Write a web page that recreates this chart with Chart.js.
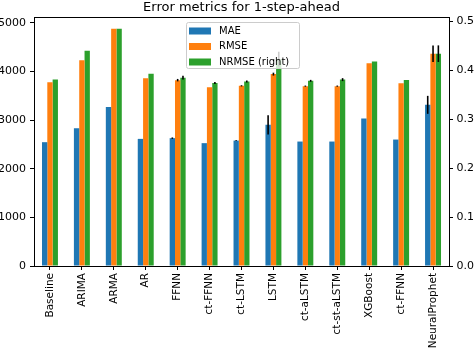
<!DOCTYPE html>
<html>
<head>
<meta charset="utf-8">
<script src="https://cdn.jsdelivr.net/npm/chart.js@4.4.0/dist/chart.umd.min.js"></script>
<style>
  html, body { margin: 0; padding: 0; background: #fff; }
</style>
</head>
<body>
<canvas id="err_chart" width="474" height="350"></canvas>
<script>
const models = ['Baseline', 'ARIMA', 'ARMA', 'AR', 'FFNN', 'ct-FFNN', 'ct-LSTM', 'LSTM', 'ct-aLSTM', 'ct-st-aLSTM', 'XGBoost', 'ct-FFNN', 'NeuralProphet'];

const maeValues = [2547, 2835, 3273, 2615, 2630, 2527, 2580, 2903, 2560, 2560, 3033, 2601, 3315];
const rmseValues = [3782, 4234, 4878, 3864, 3823, 3679, 3706, 3947, 3700, 3700, 4173, 3761, 4364];
const nrmseValues = [0.381, 0.440, 0.485, 0.393, 0.385, 0.374, 0.377, 0.423, 0.3785, 0.381, 0.418, 0.380, 0.434];

// std over runs, 0 where there is only one run
const maeErr = [0, 0, 0, 0, 15, 0, 8, 200, 0, 0, 0, 0, 185];
const rmseErr = [0, 0, 0, 0, 25, 0, 12, 30, 12, 12, 0, 0, 170];
const nrmseErr = [0, 0, 0, 0, 0.004, 0.002, 0.002, 0.015, 0.002, 0.003, 0, 0, 0.017];

const leftTicks = [0, 1000, 2000, 3000, 4000, 5000];
const rightTicks = [0, 0.1, 0.2, 0.3, 0.4, 0.5];
const leftMax = 5122;
const rightMax = 0.509;

Chart.defaults.font.family = 'DejaVu Sans';
Chart.defaults.font.size = 11;
Chart.defaults.color = '#000';

// vertical error lines on top of the bars
const errorBars = {
  id: 'errorBars',
  afterDatasetsDraw(chart) {
    const ctx = chart.ctx;
    ctx.save();
    ctx.strokeStyle = '#000';
    ctx.lineWidth = 1.6;
    chart.data.datasets.forEach((ds, i) => {
      const meta = chart.getDatasetMeta(i);
      const scale = chart.scales[ds.yAxisID];
      meta.data.forEach((bar, j) => {
        const e = ds.errors[j];
        if (!e) return;
        const v = ds.data[j];
        ctx.beginPath();
        ctx.moveTo(bar.x, scale.getPixelForValue(v - e));
        ctx.lineTo(bar.x, scale.getPixelForValue(v + e));
        ctx.stroke();
      });
    });
    ctx.restore();
  }
};

// frame + legend box inside the plot
const frameAndLegend = {
  id: 'frameAndLegend',
  afterDraw(chart) {
    const ctx = chart.ctx;
    const a = chart.chartArea;
    ctx.save();
    ctx.strokeStyle = '#000';
    ctx.lineWidth = 1;
    ctx.strokeRect(a.left + 0.5, a.top + 0.5, a.right - a.left, a.bottom - a.top);

    const lx = a.left + 152, ly = a.top + 5, lw = 113, lh = 46;
    ctx.beginPath();
    ctx.roundRect(lx + 0.5, ly + 0.5, lw, lh, 2);
    ctx.fillStyle = 'rgba(255,255,255,0.8)';
    ctx.fill();
    ctx.strokeStyle = '#cccccc';
    ctx.stroke();

    ctx.font = '10px "DejaVu Sans"';
    ctx.textBaseline = 'middle';
    chart.data.datasets.forEach((ds, i) => {
      const cy = ly + 9 + i * 15.5;
      ctx.fillStyle = ds.backgroundColor;
      ctx.fillRect(lx + 3, cy - 3.5, 22, 7);
      ctx.fillStyle = '#000';
      ctx.fillText(ds.label, lx + 33, cy);
    });
    ctx.restore();
  }
};

const tickGrid = { display: true, drawOnChartArea: false, drawTicks: true, tickLength: 4, color: '#000' };
const fixedTicks = values => scale => { scale.ticks = values.map(v => ({ value: v })); };

new Chart(document.getElementById('err_chart'), {
  type: 'bar',
  data: {
    labels: models,
    datasets: [
      { label: 'MAE', data: maeValues, errors: maeErr, yAxisID: 'y', backgroundColor: '#1f77b4' },
      { label: 'RMSE', data: rmseValues, errors: rmseErr, yAxisID: 'y', backgroundColor: '#ff7f0e' },
      { label: 'NRMSE (right)', data: nrmseValues, errors: nrmseErr, yAxisID: 'y1', backgroundColor: '#2ca02c' }
    ]
  },
  options: {
    responsive: false,
    animation: false,
    devicePixelRatio: 1,
    categoryPercentage: 0.5,
    barPercentage: 1.0,
    layout: { padding: 0 },
    plugins: {
      legend: { display: false },
      tooltip: { enabled: false },
      title: {
        display: true,
        text: 'Error metrics for 1-step-ahead',
        fullSize: false,
        color: '#000',
        font: { size: 13, weight: 'normal', lineHeight: 1.2 },
        padding: { top: 0, bottom: 1.4 }
      }
    },
    scales: {
      x: {
        grid: Object.assign({}, tickGrid, { offset: false }),
        border: { display: false },
        ticks: { minRotation: 90, maxRotation: 90, autoSkip: false, padding: 3, color: '#000',
          font: { size: 10.5 } },
        afterFit(scale) { scale.height = 84; }
      },
      y: {
        position: 'left',
        min: 0,
        max: leftMax,
        grid: tickGrid,
        border: { display: false },
        ticks: { padding: 4, color: '#000', callback: v => String(v) },
        afterBuildTicks: fixedTicks(leftTicks),
        afterFit(scale) { scale.width = 34; }
      },
      y1: {
        position: 'right',
        min: 0,
        max: rightMax,
        grid: tickGrid,
        border: { display: false },
        ticks: { padding: 3.5, color: '#000', callback: v => v.toFixed(1) },
        afterBuildTicks: fixedTicks(rightTicks),
        afterFit(scale) { scale.width = 25; }
      }
    }
  },
  plugins: [errorBars, frameAndLegend]
});
</script>
</body>
</html>
